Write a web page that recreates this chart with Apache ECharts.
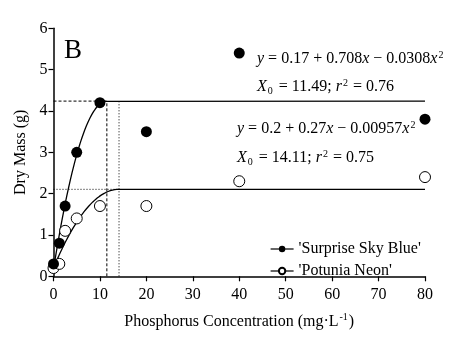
<!DOCTYPE html>
<html>
<head>
<meta charset="utf-8">
<script src="https://cdn.jsdelivr.net/npm/echarts@6/dist/echarts.min.js"></script>
<style>
  html, body { margin: 0; padding: 0; background: #fff; }
  #chart { width: 474px; height: 342px; }
</style>
</head>
<body>
<div id="chart"></div>
<script>
// Phosphorus concentrations (mg·L-1) and measured dry mass (g)
var phosphorus = [0, 1.25, 2.5, 5, 10, 20, 40, 80];
var skyBlueMass = [0.3, 0.8, 1.7, 3.0, 4.2, 3.5, 5.4, 3.8];
var potuniaMass = [0.2, 0.3, 1.1, 1.4, 1.7, 1.7, 2.3, 2.4];

// Quadratic-plateau fits: [a, b, c] for y = a + b*x + c*x^2, plateau beginning at X0
var skyBlueCoef = [0.17, 0.708, -0.0308];
var skyBlueX0 = 11.49;
var potuniaCoef = [0.2, 0.27, -0.00957];
var potuniaX0 = 14.11;

var xTicks = [0, 10, 20, 30, 40, 50, 60, 70, 80];
var yTicks = [0, 1, 2, 3, 4, 5, 6];

function quad(c, x) { return c[0] + c[1] * x + c[2] * x * x; }

// Fitted curve from 0 up to X0, then flat plateau to the last concentration
function plateauCurve(c, x0, xEnd) {
  var pts = [];
  var n = 60;
  for (var i = 0; i <= n; i++) {
    var x = x0 * i / n;
    pts.push([x, quad(c, x)]);
  }
  pts.push([xEnd, quad(c, x0)]);
  return pts;
}

var xMax = phosphorus[phosphorus.length - 1];
var skyPlateau = quad(skyBlueCoef, skyBlueX0);
var potPlateau = quad(potuniaCoef, potuniaX0);

function pairs(xs, ys) { return xs.map(function (x, i) { return [x, ys[i]]; }); }

var serif = '"Liberation Serif", "Times New Roman", serif';
var eqRich = {
  n: { fontFamily: serif, fontSize: 16, color: '#000' },
  i: { fontFamily: serif, fontSize: 16, fontStyle: 'italic', color: '#000' },
  sup: { fontFamily: serif, fontSize: 10, color: '#000', verticalAlign: 'bottom', padding: [0, 1, 8, 1] },
  sub: { fontFamily: serif, fontSize: 10, color: '#000', verticalAlign: 'bottom', padding: [0, 2, 0, 1] }
};

function eqText(left, top, text) {
  return {
    type: 'text', left: left, top: top,
    style: { text: text, rich: eqRich, font: '16px ' + serif, fill: '#000' }
  };
}

var chart = echarts.init(document.getElementById('chart'), null, { renderer: 'canvas' });

chart.setOption({
  animation: false,
  backgroundColor: '#fff',
  grid: { left: 53.5, right: 49, top: 28.3, bottom: 65.7, containLabel: false, outerBoundsMode: 'none' },
  xAxis: {
    type: 'value', min: 0, max: 80, interval: 10,
    name: 'Phosphorus Concentration (mg·L{sup|-1})',
    nameLocation: 'middle', nameGap: 36,
    nameTextStyle: {
      fontFamily: serif, fontSize: 16, color: '#000',
      rich: { sup: { fontFamily: serif, fontSize: 10, color: '#000', verticalAlign: 'bottom', padding: [0, 1, 8, 1] } }
    },
    axisLine: { show: true, onZero: false, lineStyle: { color: '#000', width: 1.5 } },
    axisTick: { show: true, length: 5, lineStyle: { color: '#000', width: 1.2 } },
    axisLabel: { fontFamily: serif, fontSize: 16, color: '#000', margin: 10,
      formatter: function (v) { return xTicks.indexOf(v) >= 0 ? String(v) : ''; } },
    splitLine: { show: false }
  },
  yAxis: {
    type: 'value', min: 0, max: 6, interval: 1,
    name: 'Dry Mass (g)', nameLocation: 'middle', nameGap: 25,
    nameTextStyle: { fontFamily: serif, fontSize: 16, color: '#000' },
    axisLine: { show: true, onZero: false, lineStyle: { color: '#000', width: 1.5 } },
    axisTick: { show: true, length: 5, lineStyle: { color: '#000', width: 1.2 } },
    axisLabel: { fontFamily: serif, fontSize: 16, color: '#000', margin: 6,
      formatter: function (v) { return yTicks.indexOf(v) >= 0 ? String(v) : ''; } },
    splitLine: { show: false }
  },
  legend: {
    left: 265, top: 236, orient: 'vertical', itemGap: 6,
    itemWidth: 23, itemHeight: 8,
    textStyle: { fontFamily: serif, fontSize: 16, color: '#000' },
    lineStyle: { color: '#000', width: 1.2, opacity: 1 },
    data: ["'Surprise Sky Blue'", "'Potunia Neon'"]
  },
  graphic: [
    { type: 'text', left: 64, top: 37, style: { text: 'B', font: '27px ' + serif, fill: '#000' } },
    eqText(257, 50, '{i|y}{n| = 0.17 + 0.708}{i|x}{n| − 0.0308}{i|x}{sup|2}'),
    eqText(257, 78, '{i|X}{sub|0}{n| = 11.49; }{i|r}{sup|2}{n| = 0.76}'),
    eqText(237, 120, '{i|y}{n| = 0.2 + 0.27}{i|x}{n| − 0.00957}{i|x}{sup|2}'),
    eqText(237, 149, '{i|X}{sub|0}{n| = 14.11; }{i|r}{sup|2}{n| = 0.75}')
  ],
  series: [
    // Reference lines marking each plateau onset
    { type: 'line', silent: true, symbol: 'none', z: 1,
      data: [[0, skyPlateau], [skyBlueX0, skyPlateau]],
      lineStyle: { color: '#000', width: 1, type: [3, 2] } },
    { type: 'line', silent: true, symbol: 'none', z: 1,
      data: [[skyBlueX0, 0], [skyBlueX0, skyPlateau]],
      lineStyle: { color: '#000', width: 1, type: [3, 2] } },
    { type: 'line', silent: true, symbol: 'none', z: 1,
      data: [[0, potPlateau], [potuniaX0, potPlateau]],
      lineStyle: { color: '#000', width: 1, type: [1, 2] } },
    { type: 'line', silent: true, symbol: 'none', z: 1,
      data: [[potuniaX0, 0], [potuniaX0, skyPlateau]],
      lineStyle: { color: '#000', width: 1, type: [1, 2] } },
    // Fitted quadratic-plateau curves
    { type: 'line', silent: true, symbol: 'none', z: 2, smooth: false,
      data: plateauCurve(skyBlueCoef, skyBlueX0, xMax),
      lineStyle: { color: '#000', width: 1.3 } },
    { type: 'line', silent: true, symbol: 'none', z: 2, smooth: false,
      data: plateauCurve(potuniaCoef, potuniaX0, xMax),
      lineStyle: { color: '#000', width: 1.3 } },
    // Observations
    { name: "'Surprise Sky Blue'", type: 'line', z: 4,
      data: pairs(phosphorus, skyBlueMass),
      symbol: 'circle', symbolSize: 11,
      itemStyle: { color: '#000', borderColor: '#000', borderWidth: 0 },
      lineStyle: { opacity: 0, color: '#000' } },
    { name: "'Potunia Neon'", type: 'line', z: 3,
      data: pairs(phosphorus, potuniaMass),
      symbol: 'circle', symbolSize: 11,
      itemStyle: { color: '#fff', borderColor: '#000', borderWidth: 1 },
      lineStyle: { opacity: 0, color: '#000' } }
  ]
});
</script>
</body>
</html>
